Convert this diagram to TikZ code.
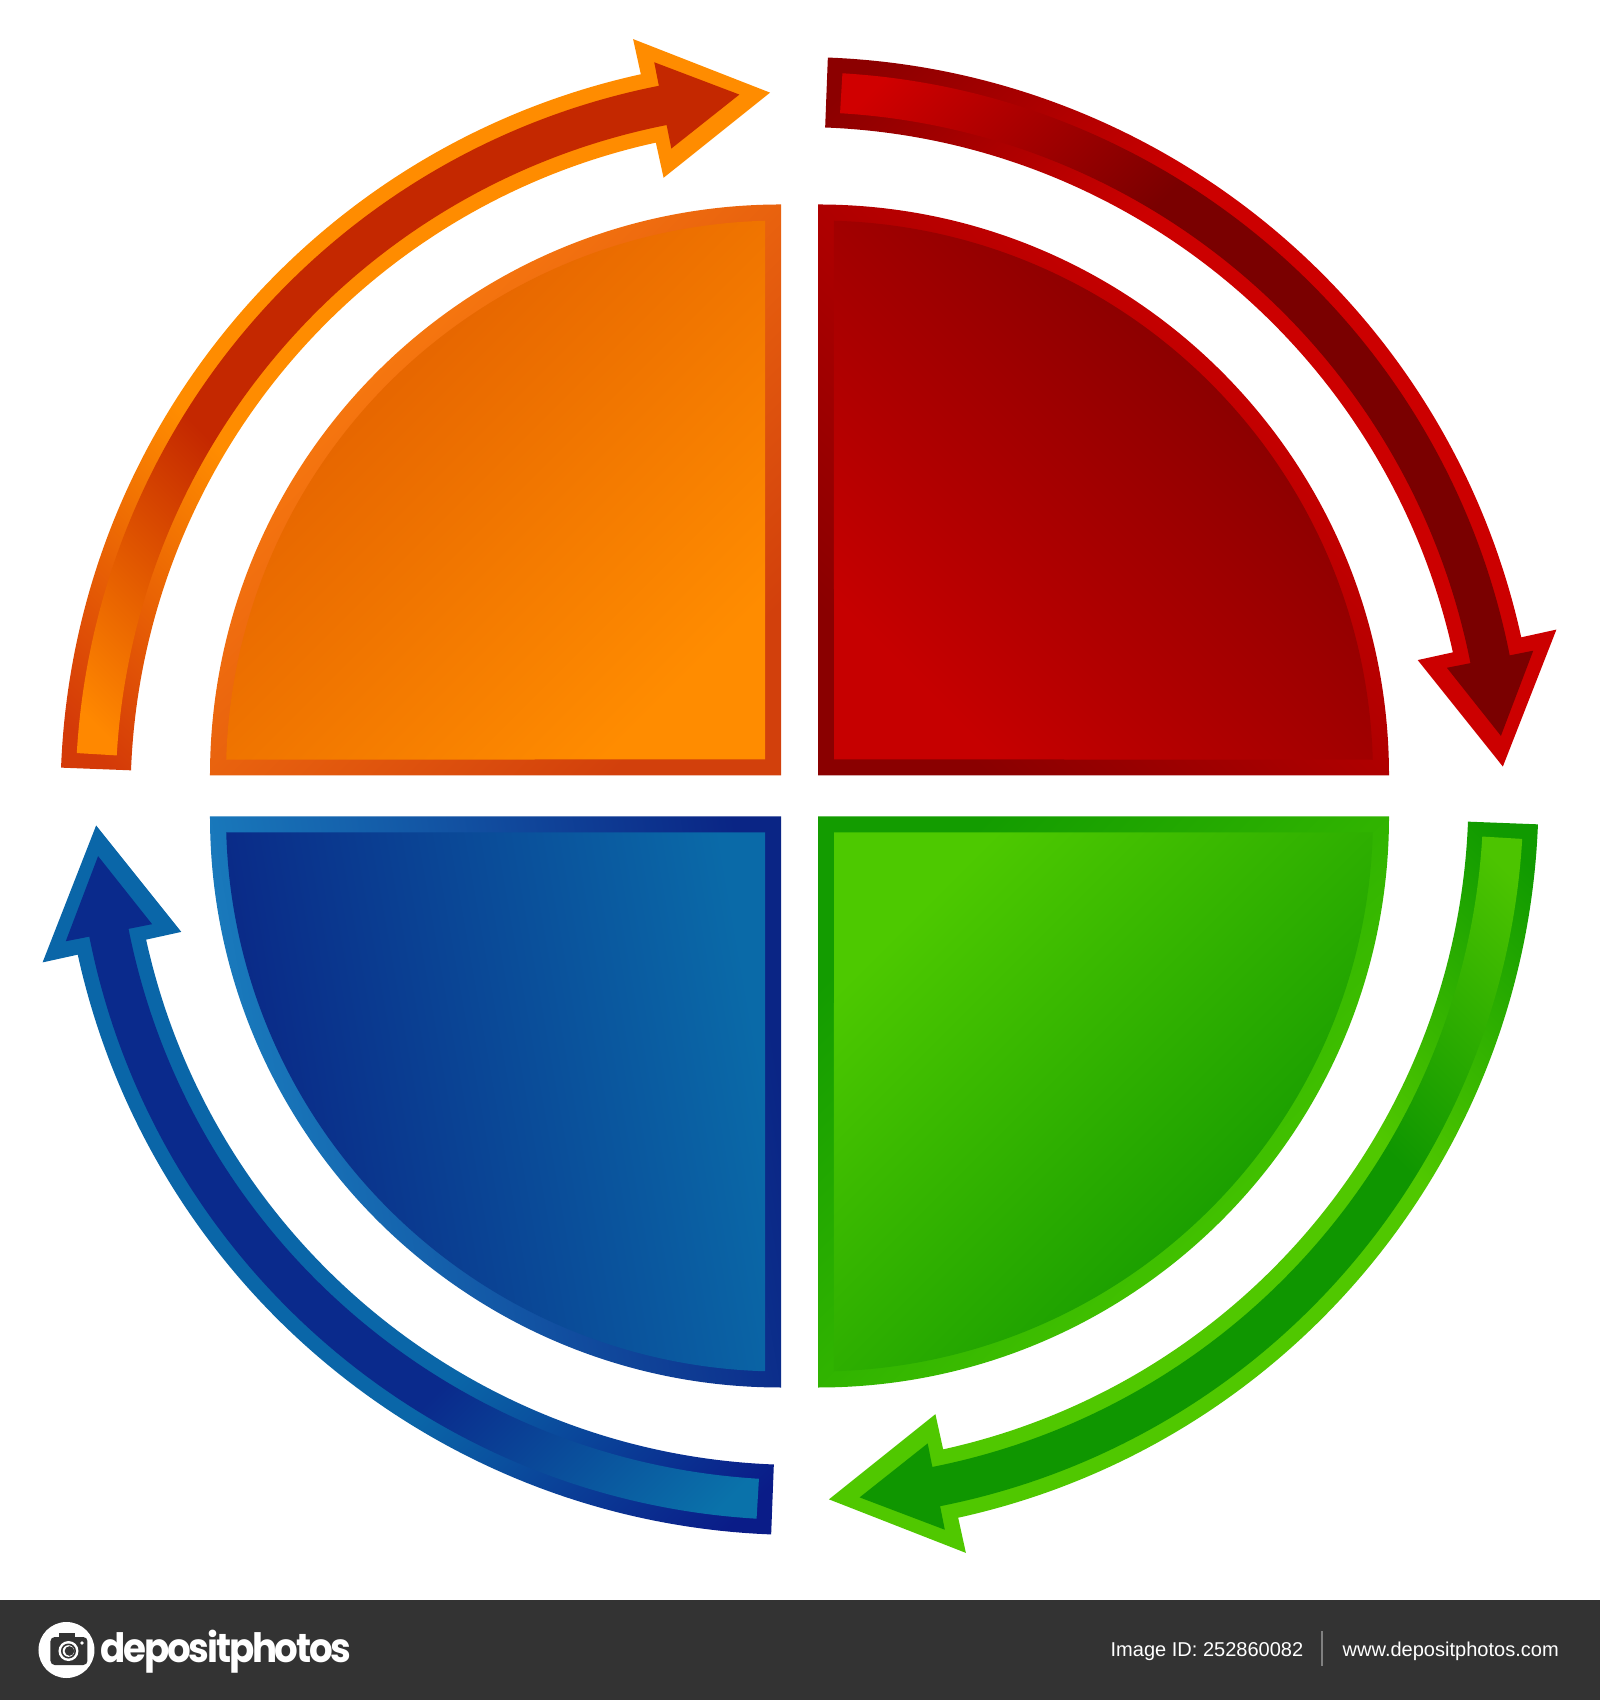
\documentclass[tikz,border=0pt]{standalone}
\usepackage{fontspec}
\setmainfont{Liberation Sans}
\newfontfamily\brandfont{Poppins}[LetterSpace=-6]
\usetikzlibrary{calc}

% quadrant colours (edge / fill, at the arc and at the corner)
\definecolor{orEdgeArc}{HTML}{FF8410}
\definecolor{orEdgeCorner}{HTML}{D2400C}
\definecolor{orFillArc}{HTML}{E05C00}
\definecolor{orFillCorner}{HTML}{FF8C00}
\definecolor{rdEdgeArc}{HTML}{D40000}
\definecolor{rdEdgeCorner}{HTML}{8A0000}
\definecolor{rdFillArc}{HTML}{7C0000}
\definecolor{rdFillCorner}{HTML}{C60000}
\definecolor{gnEdgeArc}{HTML}{4ECB00}
\definecolor{gnEdgeCorner}{HTML}{139C00}
\definecolor{gnFillArc}{HTML}{0E9400}
\definecolor{gnFillCorner}{HTML}{4DC900}
\definecolor{blEdgeArc}{HTML}{1A80C0}
\definecolor{blEdgeCorner}{HTML}{0A2585}
\definecolor{blFillArc}{HTML}{0A2585}
\definecolor{blFillCorner}{HTML}{0A6AA8}
% arrow colours (edge / fill, at the head and at the tail)
\definecolor{orArrEdgeHead}{HTML}{FF8C00}
\definecolor{orArrEdgeTail}{HTML}{D43A08}
\definecolor{orArrFillHead}{HTML}{C42800}
\definecolor{orArrFillTail}{HTML}{FF8800}
\definecolor{rdArrEdgeHead}{HTML}{CC0000}
\definecolor{rdArrEdgeTail}{HTML}{8C0000}
\definecolor{rdArrFillHead}{HTML}{7A0000}
\definecolor{rdArrFillTail}{HTML}{D00000}
\definecolor{gnArrEdgeHead}{HTML}{50C800}
\definecolor{gnArrEdgeTail}{HTML}{109A00}
\definecolor{gnArrFillHead}{HTML}{0F9600}
\definecolor{gnArrFillTail}{HTML}{4CC400}
\definecolor{blArrEdgeHead}{HTML}{0A66A8}
\definecolor{blArrEdgeTail}{HTML}{0A1C88}
\definecolor{blArrFillHead}{HTML}{0A2A8C}
\definecolor{blArrFillTail}{HTML}{0A72AA}
\definecolor{bannergray}{HTML}{333333}
\colorlet{arrHead}{black}
\colorlet{arrTail}{black}

% head colour over most of the arrow, tail colour only near its end
\pgfdeclareverticalshading[arrHead,arrTail]{ringshade}{100bp}{%
  color(0bp)=(arrTail); color(17bp)=(arrTail);
  color(38bp)=(arrHead); color(100bp)=(arrHead)}

\tikzset{
  sector/.style 2 args={insert path={(#1) -- ++(#2:571)
      arc[start angle=#2, end angle={#2+90}, radius=571] -- cycle}},
  sector inner/.style 2 args={insert path={($(#1)+({#2+45}:22.63)$)
      -- ($(#1)+({#2+1.65}:555)$)
      arc[start angle={#2+1.65}, end angle={#2+88.35}, radius=555] -- cycle}},
  ring arrow/.style={insert path={({#1+87.8}:739)
      arc[start angle={#1+87.8}, end angle={#1+12.4}, radius=739]
      -- ({#1+12.4}:775) -- ({#1+2.4}:704) -- ({#1+12.4}:633) -- ({#1+12.4}:669)
      arc[start angle={#1+12.4}, end angle={#1+87.8}, radius=669] -- cycle}},
  ring arrow inner/.style={insert path={({#1+86.6}:724)
      arc[start angle={#1+86.6}, end angle={#1+11.2}, radius=724]
      -- ({#1+11.2}:748) -- ({#1+4.9}:704) -- ({#1+11.2}:660) -- ({#1+11.2}:684)
      arc[start angle={#1+11.2}, end angle={#1+86.6}, radius=684] -- cycle}},
  % head colour, tail colour, angle of the head side
  arrow shade/.style n args={3}{/utils/exec={\colorlet{arrHead}{#1}\colorlet{arrTail}{#2}},
      shade, shading=ringshade, shading angle=#3},
  bannertext/.style={text=white, inner sep=0pt, font=\fontsize{5.7}{6.5}\selectfont},
}

\begin{document}
\begin{tikzpicture}[x=0.1mm, y=0.1mm]
    \fill[white] (-799.5,-904) rectangle (800.5,796);
    \useasboundingbox (-799.5,-904) rectangle (800.5,796);
    % Quadrant corners
    \coordinate (ko) at (-18.5,20.5);
    \coordinate (kr) at (18.5,20.5);
    \coordinate (kg) at (18.5,-20.5);
    \coordinate (kb) at (-18.5,-20.5);
    % Orange quadrant and arrow
    \shade[top color=orEdgeArc, bottom color=orEdgeCorner, shading angle=45, sector={ko}{90}];
    \shade[top color=orFillArc, bottom color=orFillCorner, shading angle=45, sector inner={ko}{90}];
    \shade[arrow shade={orArrEdgeHead}{orArrEdgeTail}{-45}, ring arrow=90];
    \shade[arrow shade={orArrFillHead}{orArrFillTail}{-45}, ring arrow inner=90];
    % Red quadrant and arrow
    \shade[top color=rdEdgeArc, bottom color=rdEdgeCorner, shading angle=-45, sector={kr}{0}];
    \shade[top color=rdFillArc, bottom color=rdFillCorner, shading angle=-45, sector inner={kr}{0}];
    \shade[arrow shade={rdArrEdgeHead}{rdArrEdgeTail}{-135}, ring arrow=0];
    \shade[arrow shade={rdArrFillHead}{rdArrFillTail}{-135}, ring arrow inner=0];
    % Green quadrant and arrow
    \shade[top color=gnEdgeArc, bottom color=gnEdgeCorner, shading angle=-135, sector={kg}{-90}];
    \shade[top color=gnFillArc, bottom color=gnFillCorner, shading angle=-135, sector inner={kg}{-90}];
    \shade[arrow shade={gnArrEdgeHead}{gnArrEdgeTail}{135}, ring arrow=-90];
    \shade[arrow shade={gnArrFillHead}{gnArrFillTail}{135}, ring arrow inner=-90];
    % Blue quadrant and arrow
    \shade[top color=blEdgeArc, bottom color=blEdgeCorner, shading angle=100, sector={kb}{180}];
    \shade[top color=blFillArc, bottom color=blFillCorner, shading angle=100, sector inner={kb}{180}];
    \shade[arrow shade={blArrEdgeHead}{blArrEdgeTail}{45}, ring arrow=180];
    \shade[arrow shade={blArrFillHead}{blArrFillTail}{45}, ring arrow inner=180];
    % Banner
    \fill[bannergray] (-799.5,-804) rectangle (800.5,-904);
    \coordinate (logo) at (-733,-854);
    \fill[white] (logo) circle[radius=28];
    \fill[bannergray, rounded corners=1.2pt] ($(logo)+(-16,-15)$) rectangle ($(logo)+(21,13)$);
    \fill[bannergray] ($(logo)+(-7,11)$) rectangle ($(logo)+(9,17)$);
    \fill[white] ($(logo)+(2,-1)$) circle[radius=10];
    \fill[bannergray] ($(logo)+(2,-1)$) circle[radius=7.5];
    \fill[white] ($(logo)+(2,-1)$) circle[radius=5.8];
    \fill[bannergray] ($(logo)+(3,-1)$) circle[radius=4.8];
    \fill[white] ($(logo)+(15.5,7)$) circle[radius=1.8];
    \node[bannertext, anchor=base west, font=\brandfont\bfseries\fontsize{11.5}{12}\selectfont] (brand) at (-699.5,-866) {\scalebox{0.92}[1]{depositphotos}};
    \node[bannertext, anchor=base east] (imageid) at (504.5,-860) {Image ID: 252860082};
    \draw[gray, line width=0.3pt] (522.5,-835) -- (522.5,-870);
    \node[bannertext, anchor=base west] (url) at (542.5,-860) {www.depositphotos.com};
\end{tikzpicture}
\end{document}
